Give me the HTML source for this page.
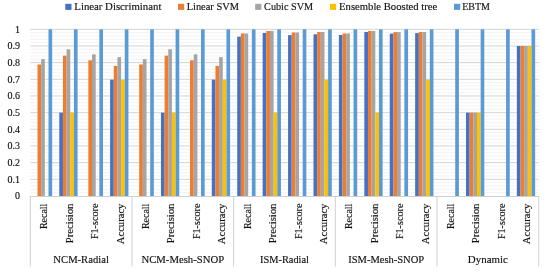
<!DOCTYPE html><html><head><meta charset="utf-8"><title>chart</title><style>html,body{margin:0;padding:0;background:#fff}svg{display:block}text{font-family:"Liberation Serif",serif;fill:#111;stroke:#111;stroke-width:0.15px}</style></head><body>
<svg width="550" height="274" viewBox="0 0 550 274">
<rect width="550" height="274" fill="#fff"/>
<line x1="30.3" x2="538.7" y1="192.67" y2="192.67" stroke="#f0f0f0" stroke-width="0.8"/>
<line x1="30.3" x2="538.7" y1="189.33" y2="189.33" stroke="#f0f0f0" stroke-width="0.8"/>
<line x1="30.3" x2="538.7" y1="186.00" y2="186.00" stroke="#f0f0f0" stroke-width="0.8"/>
<line x1="30.3" x2="538.7" y1="182.66" y2="182.66" stroke="#f0f0f0" stroke-width="0.8"/>
<line x1="30.3" x2="538.7" y1="176.00" y2="176.00" stroke="#f0f0f0" stroke-width="0.8"/>
<line x1="30.3" x2="538.7" y1="172.66" y2="172.66" stroke="#f0f0f0" stroke-width="0.8"/>
<line x1="30.3" x2="538.7" y1="169.33" y2="169.33" stroke="#f0f0f0" stroke-width="0.8"/>
<line x1="30.3" x2="538.7" y1="165.99" y2="165.99" stroke="#f0f0f0" stroke-width="0.8"/>
<line x1="30.3" x2="538.7" y1="159.33" y2="159.33" stroke="#f0f0f0" stroke-width="0.8"/>
<line x1="30.3" x2="538.7" y1="155.99" y2="155.99" stroke="#f0f0f0" stroke-width="0.8"/>
<line x1="30.3" x2="538.7" y1="152.66" y2="152.66" stroke="#f0f0f0" stroke-width="0.8"/>
<line x1="30.3" x2="538.7" y1="149.32" y2="149.32" stroke="#f0f0f0" stroke-width="0.8"/>
<line x1="30.3" x2="538.7" y1="142.66" y2="142.66" stroke="#f0f0f0" stroke-width="0.8"/>
<line x1="30.3" x2="538.7" y1="139.32" y2="139.32" stroke="#f0f0f0" stroke-width="0.8"/>
<line x1="30.3" x2="538.7" y1="135.99" y2="135.99" stroke="#f0f0f0" stroke-width="0.8"/>
<line x1="30.3" x2="538.7" y1="132.65" y2="132.65" stroke="#f0f0f0" stroke-width="0.8"/>
<line x1="30.3" x2="538.7" y1="125.99" y2="125.99" stroke="#f0f0f0" stroke-width="0.8"/>
<line x1="30.3" x2="538.7" y1="122.65" y2="122.65" stroke="#f0f0f0" stroke-width="0.8"/>
<line x1="30.3" x2="538.7" y1="119.32" y2="119.32" stroke="#f0f0f0" stroke-width="0.8"/>
<line x1="30.3" x2="538.7" y1="115.98" y2="115.98" stroke="#f0f0f0" stroke-width="0.8"/>
<line x1="30.3" x2="538.7" y1="109.32" y2="109.32" stroke="#f0f0f0" stroke-width="0.8"/>
<line x1="30.3" x2="538.7" y1="105.98" y2="105.98" stroke="#f0f0f0" stroke-width="0.8"/>
<line x1="30.3" x2="538.7" y1="102.65" y2="102.65" stroke="#f0f0f0" stroke-width="0.8"/>
<line x1="30.3" x2="538.7" y1="99.31" y2="99.31" stroke="#f0f0f0" stroke-width="0.8"/>
<line x1="30.3" x2="538.7" y1="92.65" y2="92.65" stroke="#f0f0f0" stroke-width="0.8"/>
<line x1="30.3" x2="538.7" y1="89.31" y2="89.31" stroke="#f0f0f0" stroke-width="0.8"/>
<line x1="30.3" x2="538.7" y1="85.98" y2="85.98" stroke="#f0f0f0" stroke-width="0.8"/>
<line x1="30.3" x2="538.7" y1="82.64" y2="82.64" stroke="#f0f0f0" stroke-width="0.8"/>
<line x1="30.3" x2="538.7" y1="75.98" y2="75.98" stroke="#f0f0f0" stroke-width="0.8"/>
<line x1="30.3" x2="538.7" y1="72.64" y2="72.64" stroke="#f0f0f0" stroke-width="0.8"/>
<line x1="30.3" x2="538.7" y1="69.31" y2="69.31" stroke="#f0f0f0" stroke-width="0.8"/>
<line x1="30.3" x2="538.7" y1="65.97" y2="65.97" stroke="#f0f0f0" stroke-width="0.8"/>
<line x1="30.3" x2="538.7" y1="59.31" y2="59.31" stroke="#f0f0f0" stroke-width="0.8"/>
<line x1="30.3" x2="538.7" y1="55.97" y2="55.97" stroke="#f0f0f0" stroke-width="0.8"/>
<line x1="30.3" x2="538.7" y1="52.64" y2="52.64" stroke="#f0f0f0" stroke-width="0.8"/>
<line x1="30.3" x2="538.7" y1="49.30" y2="49.30" stroke="#f0f0f0" stroke-width="0.8"/>
<line x1="30.3" x2="538.7" y1="42.64" y2="42.64" stroke="#f0f0f0" stroke-width="0.8"/>
<line x1="30.3" x2="538.7" y1="39.30" y2="39.30" stroke="#f0f0f0" stroke-width="0.8"/>
<line x1="30.3" x2="538.7" y1="35.97" y2="35.97" stroke="#f0f0f0" stroke-width="0.8"/>
<line x1="30.3" x2="538.7" y1="32.63" y2="32.63" stroke="#f0f0f0" stroke-width="0.8"/>
<line x1="30.3" x2="538.7" y1="179.33" y2="179.33" stroke="#d4d4d4" stroke-width="1"/>
<line x1="30.3" x2="538.7" y1="162.66" y2="162.66" stroke="#d4d4d4" stroke-width="1"/>
<line x1="30.3" x2="538.7" y1="145.99" y2="145.99" stroke="#d4d4d4" stroke-width="1"/>
<line x1="30.3" x2="538.7" y1="129.32" y2="129.32" stroke="#d4d4d4" stroke-width="1"/>
<line x1="30.3" x2="538.7" y1="112.65" y2="112.65" stroke="#d4d4d4" stroke-width="1"/>
<line x1="30.3" x2="538.7" y1="95.98" y2="95.98" stroke="#d4d4d4" stroke-width="1"/>
<line x1="30.3" x2="538.7" y1="79.31" y2="79.31" stroke="#d4d4d4" stroke-width="1"/>
<line x1="30.3" x2="538.7" y1="62.64" y2="62.64" stroke="#d4d4d4" stroke-width="1"/>
<line x1="30.3" x2="538.7" y1="45.97" y2="45.97" stroke="#d4d4d4" stroke-width="1"/>
<line x1="30.3" x2="538.7" y1="29.30" y2="29.30" stroke="#d4d4d4" stroke-width="1"/>
<rect x="37.52" y="64.47" width="3.66" height="131.53" fill="#ED7D31"/>
<rect x="41.18" y="59.14" width="3.66" height="136.86" fill="#A5A5A5"/>
<rect x="48.50" y="29.30" width="3.66" height="166.70" fill="#5B9BD5"/>
<rect x="59.28" y="112.65" width="3.66" height="83.35" fill="#4472C4"/>
<rect x="62.94" y="55.64" width="3.66" height="140.36" fill="#ED7D31"/>
<rect x="66.60" y="49.30" width="3.66" height="146.70" fill="#A5A5A5"/>
<rect x="70.26" y="112.65" width="3.66" height="83.35" fill="#FFC000"/>
<rect x="73.92" y="29.30" width="3.66" height="166.70" fill="#5B9BD5"/>
<rect x="88.36" y="60.31" width="3.66" height="135.69" fill="#ED7D31"/>
<rect x="92.02" y="54.31" width="3.66" height="141.69" fill="#A5A5A5"/>
<rect x="99.34" y="29.30" width="3.66" height="166.70" fill="#5B9BD5"/>
<rect x="110.12" y="79.64" width="3.66" height="116.36" fill="#4472C4"/>
<rect x="113.78" y="65.97" width="3.66" height="130.03" fill="#ED7D31"/>
<rect x="117.44" y="57.14" width="3.66" height="138.86" fill="#A5A5A5"/>
<rect x="121.10" y="79.64" width="3.66" height="116.36" fill="#FFC000"/>
<rect x="124.76" y="29.30" width="3.66" height="166.70" fill="#5B9BD5"/>
<rect x="139.20" y="64.47" width="3.66" height="131.53" fill="#ED7D31"/>
<rect x="142.86" y="59.14" width="3.66" height="136.86" fill="#A5A5A5"/>
<rect x="150.18" y="29.30" width="3.66" height="166.70" fill="#5B9BD5"/>
<rect x="160.96" y="112.65" width="3.66" height="83.35" fill="#4472C4"/>
<rect x="164.62" y="55.64" width="3.66" height="140.36" fill="#ED7D31"/>
<rect x="168.28" y="49.30" width="3.66" height="146.70" fill="#A5A5A5"/>
<rect x="171.94" y="112.65" width="3.66" height="83.35" fill="#FFC000"/>
<rect x="175.60" y="29.30" width="3.66" height="166.70" fill="#5B9BD5"/>
<rect x="190.04" y="60.31" width="3.66" height="135.69" fill="#ED7D31"/>
<rect x="193.70" y="54.31" width="3.66" height="141.69" fill="#A5A5A5"/>
<rect x="201.02" y="29.30" width="3.66" height="166.70" fill="#5B9BD5"/>
<rect x="211.80" y="79.64" width="3.66" height="116.36" fill="#4472C4"/>
<rect x="215.46" y="65.97" width="3.66" height="130.03" fill="#ED7D31"/>
<rect x="219.12" y="57.14" width="3.66" height="138.86" fill="#A5A5A5"/>
<rect x="222.78" y="79.64" width="3.66" height="116.36" fill="#FFC000"/>
<rect x="226.44" y="29.30" width="3.66" height="166.70" fill="#5B9BD5"/>
<rect x="237.22" y="36.63" width="3.66" height="159.37" fill="#4472C4"/>
<rect x="240.88" y="33.47" width="3.66" height="162.53" fill="#ED7D31"/>
<rect x="244.54" y="33.47" width="3.66" height="162.53" fill="#A5A5A5"/>
<rect x="251.86" y="29.30" width="3.66" height="166.70" fill="#5B9BD5"/>
<rect x="262.64" y="32.97" width="3.66" height="163.03" fill="#4472C4"/>
<rect x="266.30" y="30.97" width="3.66" height="165.03" fill="#ED7D31"/>
<rect x="269.96" y="30.97" width="3.66" height="165.03" fill="#A5A5A5"/>
<rect x="273.62" y="112.65" width="3.66" height="83.35" fill="#FFC000"/>
<rect x="277.28" y="29.30" width="3.66" height="166.70" fill="#5B9BD5"/>
<rect x="288.06" y="35.13" width="3.66" height="160.87" fill="#4472C4"/>
<rect x="291.72" y="32.47" width="3.66" height="163.53" fill="#ED7D31"/>
<rect x="295.38" y="32.47" width="3.66" height="163.53" fill="#A5A5A5"/>
<rect x="302.70" y="29.30" width="3.66" height="166.70" fill="#5B9BD5"/>
<rect x="313.48" y="34.30" width="3.66" height="161.70" fill="#4472C4"/>
<rect x="317.14" y="31.97" width="3.66" height="164.03" fill="#ED7D31"/>
<rect x="320.80" y="31.97" width="3.66" height="164.03" fill="#A5A5A5"/>
<rect x="324.46" y="79.64" width="3.66" height="116.36" fill="#FFC000"/>
<rect x="328.12" y="29.30" width="3.66" height="166.70" fill="#5B9BD5"/>
<rect x="338.90" y="34.97" width="3.66" height="161.03" fill="#4472C4"/>
<rect x="342.56" y="33.47" width="3.66" height="162.53" fill="#ED7D31"/>
<rect x="346.22" y="33.47" width="3.66" height="162.53" fill="#A5A5A5"/>
<rect x="353.54" y="29.30" width="3.66" height="166.70" fill="#5B9BD5"/>
<rect x="364.32" y="31.97" width="3.66" height="164.03" fill="#4472C4"/>
<rect x="367.98" y="30.97" width="3.66" height="165.03" fill="#ED7D31"/>
<rect x="371.64" y="30.97" width="3.66" height="165.03" fill="#A5A5A5"/>
<rect x="375.30" y="112.65" width="3.66" height="83.35" fill="#FFC000"/>
<rect x="378.96" y="29.30" width="3.66" height="166.70" fill="#5B9BD5"/>
<rect x="389.74" y="33.63" width="3.66" height="162.37" fill="#4472C4"/>
<rect x="393.40" y="32.13" width="3.66" height="163.87" fill="#ED7D31"/>
<rect x="397.06" y="32.13" width="3.66" height="163.87" fill="#A5A5A5"/>
<rect x="404.38" y="29.30" width="3.66" height="166.70" fill="#5B9BD5"/>
<rect x="415.16" y="33.13" width="3.66" height="162.87" fill="#4472C4"/>
<rect x="418.82" y="31.97" width="3.66" height="164.03" fill="#ED7D31"/>
<rect x="422.48" y="31.97" width="3.66" height="164.03" fill="#A5A5A5"/>
<rect x="426.14" y="79.64" width="3.66" height="116.36" fill="#FFC000"/>
<rect x="429.80" y="29.30" width="3.66" height="166.70" fill="#5B9BD5"/>
<rect x="455.22" y="29.30" width="3.66" height="166.70" fill="#5B9BD5"/>
<rect x="466.00" y="112.65" width="3.66" height="83.35" fill="#4472C4"/>
<rect x="469.66" y="112.65" width="3.66" height="83.35" fill="#ED7D31"/>
<rect x="473.32" y="112.65" width="3.66" height="83.35" fill="#A5A5A5"/>
<rect x="476.98" y="112.65" width="3.66" height="83.35" fill="#FFC000"/>
<rect x="480.64" y="29.30" width="3.66" height="166.70" fill="#5B9BD5"/>
<rect x="506.06" y="29.30" width="3.66" height="166.70" fill="#5B9BD5"/>
<rect x="516.84" y="45.97" width="3.66" height="150.03" fill="#4472C4"/>
<rect x="520.50" y="45.97" width="3.66" height="150.03" fill="#ED7D31"/>
<rect x="524.16" y="45.97" width="3.66" height="150.03" fill="#A5A5A5"/>
<rect x="527.82" y="45.97" width="3.66" height="150.03" fill="#FFC000"/>
<rect x="531.48" y="29.30" width="3.66" height="166.70" fill="#5B9BD5"/>
<line x1="29.8" x2="539.2" y1="196.5" y2="196.5" stroke="#d0d0d0" stroke-width="1"/>
<line x1="30.30" x2="30.30"  y1="196" y2="266.5" stroke="#d0d0d0" stroke-width="1"/>
<line x1="131.98" x2="131.98"  y1="196" y2="266.5" stroke="#d0d0d0" stroke-width="1"/>
<line x1="233.66" x2="233.66"  y1="196" y2="266.5" stroke="#d0d0d0" stroke-width="1"/>
<line x1="335.34" x2="335.34"  y1="196" y2="266.5" stroke="#d0d0d0" stroke-width="1"/>
<line x1="437.02" x2="437.02"  y1="196" y2="266.5" stroke="#d0d0d0" stroke-width="1"/>
<line x1="538.70" x2="538.70"  y1="196" y2="266.5" stroke="#d0d0d0" stroke-width="1"/>
<text x="19.9" y="199.40" font-size="10" text-anchor="end">0</text>
<text x="19.9" y="182.73" font-size="10" text-anchor="end">0.1</text>
<text x="19.9" y="166.06" font-size="10" text-anchor="end">0.2</text>
<text x="19.9" y="149.39" font-size="10" text-anchor="end">0.3</text>
<text x="19.9" y="132.72" font-size="10" text-anchor="end">0.4</text>
<text x="19.9" y="116.05" font-size="10" text-anchor="end">0.5</text>
<text x="19.9" y="99.38" font-size="10" text-anchor="end">0.6</text>
<text x="19.9" y="82.71" font-size="10" text-anchor="end">0.7</text>
<text x="19.9" y="66.04" font-size="10" text-anchor="end">0.8</text>
<text x="19.9" y="49.37" font-size="10" text-anchor="end">0.9</text>
<text x="19.9" y="32.70" font-size="10" text-anchor="end">1</text>
<text transform="translate(47.31,203.6) rotate(-90)" font-size="10.6" text-anchor="end" textLength="25.5" lengthAdjust="spacingAndGlyphs">Recall</text>
<text transform="translate(72.73,203.6) rotate(-90)" font-size="10.6" text-anchor="end" textLength="39.6" lengthAdjust="spacingAndGlyphs">Precision</text>
<text transform="translate(98.15,203.6) rotate(-90)" font-size="10.6" text-anchor="end" textLength="35.5" lengthAdjust="spacingAndGlyphs">F1-score</text>
<text transform="translate(123.57,203.6) rotate(-90)" font-size="10.6" text-anchor="end" textLength="40.6" lengthAdjust="spacingAndGlyphs">Accuracy</text>
<text transform="translate(148.99,203.6) rotate(-90)" font-size="10.6" text-anchor="end" textLength="25.5" lengthAdjust="spacingAndGlyphs">Recall</text>
<text transform="translate(174.41,203.6) rotate(-90)" font-size="10.6" text-anchor="end" textLength="39.6" lengthAdjust="spacingAndGlyphs">Precision</text>
<text transform="translate(199.83,203.6) rotate(-90)" font-size="10.6" text-anchor="end" textLength="35.5" lengthAdjust="spacingAndGlyphs">F1-score</text>
<text transform="translate(225.25,203.6) rotate(-90)" font-size="10.6" text-anchor="end" textLength="40.6" lengthAdjust="spacingAndGlyphs">Accuracy</text>
<text transform="translate(250.67,203.6) rotate(-90)" font-size="10.6" text-anchor="end" textLength="25.5" lengthAdjust="spacingAndGlyphs">Recall</text>
<text transform="translate(276.09,203.6) rotate(-90)" font-size="10.6" text-anchor="end" textLength="39.6" lengthAdjust="spacingAndGlyphs">Precision</text>
<text transform="translate(301.51,203.6) rotate(-90)" font-size="10.6" text-anchor="end" textLength="35.5" lengthAdjust="spacingAndGlyphs">F1-score</text>
<text transform="translate(326.93,203.6) rotate(-90)" font-size="10.6" text-anchor="end" textLength="40.6" lengthAdjust="spacingAndGlyphs">Accuracy</text>
<text transform="translate(352.35,203.6) rotate(-90)" font-size="10.6" text-anchor="end" textLength="25.5" lengthAdjust="spacingAndGlyphs">Recall</text>
<text transform="translate(377.77,203.6) rotate(-90)" font-size="10.6" text-anchor="end" textLength="39.6" lengthAdjust="spacingAndGlyphs">Precision</text>
<text transform="translate(403.19,203.6) rotate(-90)" font-size="10.6" text-anchor="end" textLength="35.5" lengthAdjust="spacingAndGlyphs">F1-score</text>
<text transform="translate(428.61,203.6) rotate(-90)" font-size="10.6" text-anchor="end" textLength="40.6" lengthAdjust="spacingAndGlyphs">Accuracy</text>
<text transform="translate(454.03,203.6) rotate(-90)" font-size="10.6" text-anchor="end" textLength="25.5" lengthAdjust="spacingAndGlyphs">Recall</text>
<text transform="translate(479.45,203.6) rotate(-90)" font-size="10.6" text-anchor="end" textLength="39.6" lengthAdjust="spacingAndGlyphs">Precision</text>
<text transform="translate(504.87,203.6) rotate(-90)" font-size="10.6" text-anchor="end" textLength="35.5" lengthAdjust="spacingAndGlyphs">F1-score</text>
<text transform="translate(530.29,203.6) rotate(-90)" font-size="10.6" text-anchor="end" textLength="40.6" lengthAdjust="spacingAndGlyphs">Accuracy</text>
<text x="81.14" y="263.2" font-size="10.6" text-anchor="middle" textLength="55.5" lengthAdjust="spacingAndGlyphs">NCM-Radial</text>
<text x="182.82" y="263.2" font-size="10.6" text-anchor="middle" textLength="82.8" lengthAdjust="spacingAndGlyphs">NCM-Mesh-SNOP</text>
<text x="284.50" y="263.2" font-size="10.6" text-anchor="middle" textLength="49" lengthAdjust="spacingAndGlyphs">ISM-Radial</text>
<text x="386.18" y="263.2" font-size="10.6" text-anchor="middle" textLength="76" lengthAdjust="spacingAndGlyphs">ISM-Mesh-SNOP</text>
<text x="487.86" y="263.2" font-size="10.6" text-anchor="middle" textLength="40" lengthAdjust="spacingAndGlyphs">Dynamic</text>
<rect x="65.30" y="3.8" width="6.2" height="6.1" fill="#4472C4"/>
<text x="74.30" y="10.3" font-size="11" textLength="87.10" lengthAdjust="spacingAndGlyphs">Linear Discriminant</text>
<rect x="178.00" y="3.8" width="6.2" height="6.1" fill="#ED7D31"/>
<text x="186.70" y="10.3" font-size="11" textLength="52.20" lengthAdjust="spacingAndGlyphs">Linear SVM</text>
<rect x="255.20" y="3.8" width="6.2" height="6.1" fill="#A5A5A5"/>
<text x="264.10" y="10.3" font-size="11" textLength="49.00" lengthAdjust="spacingAndGlyphs">Cubic SVM</text>
<rect x="330.00" y="3.8" width="6.2" height="6.1" fill="#FFC000"/>
<text x="339.10" y="10.3" font-size="11" textLength="98.20" lengthAdjust="spacingAndGlyphs">Ensemble Boosted tree</text>
<rect x="454.00" y="3.8" width="6.2" height="6.1" fill="#5B9BD5"/>
<text x="462.20" y="10.3" font-size="11" textLength="27.80" lengthAdjust="spacingAndGlyphs">EBTM</text>
</svg></body></html>
